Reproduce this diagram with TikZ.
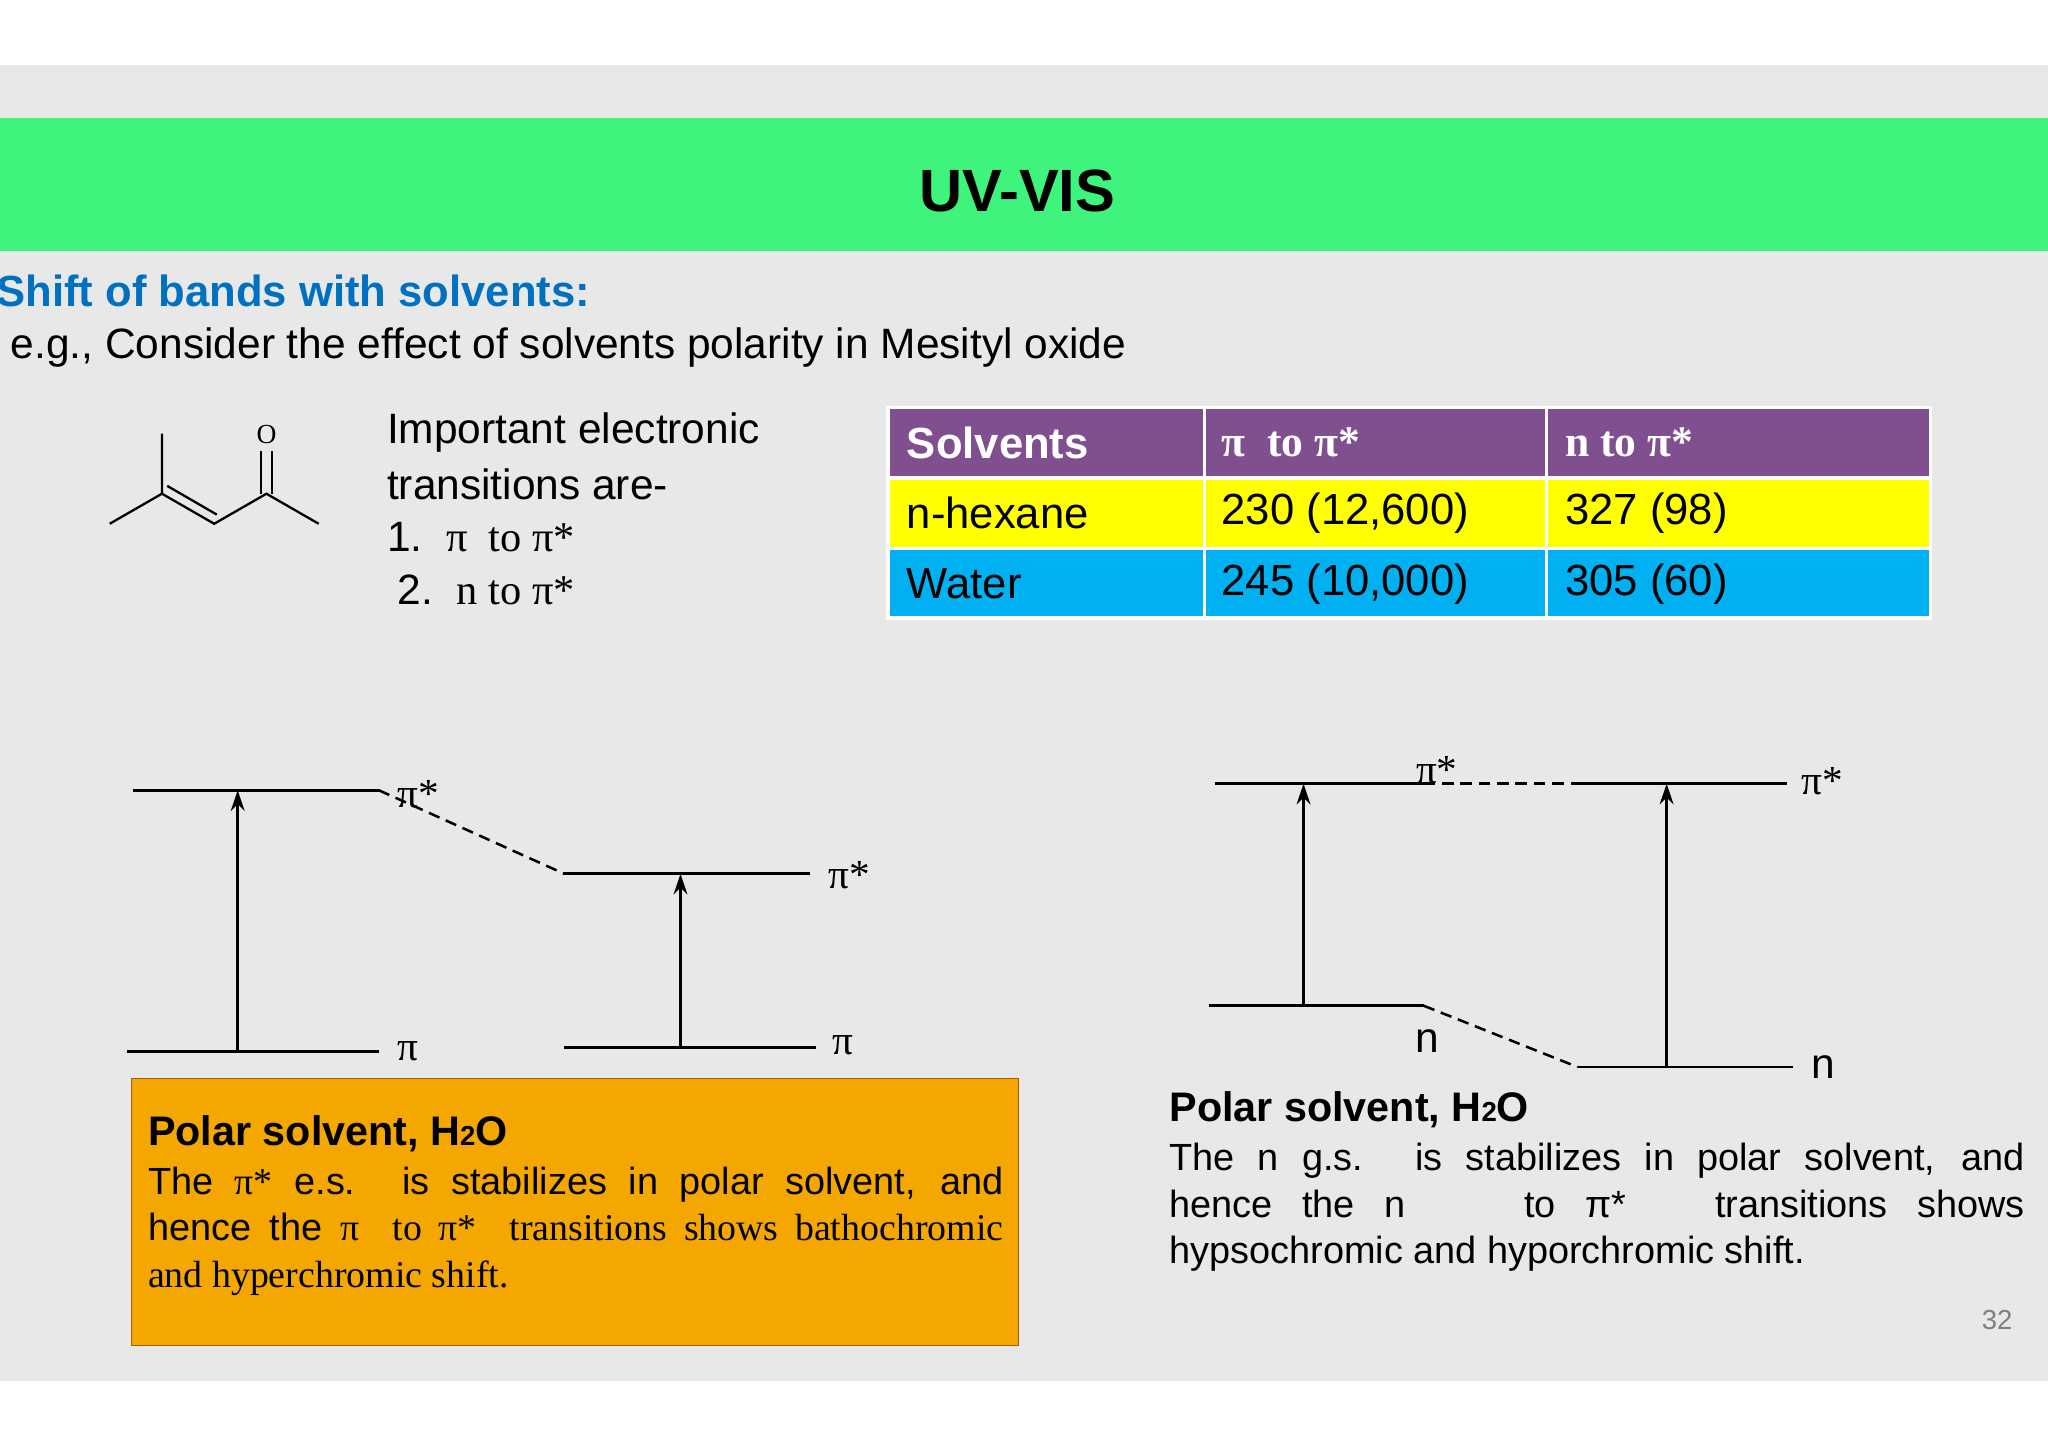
\documentclass[tikz,border=0pt]{standalone}
\usepackage{fontspec}
\setmainfont{Liberation Sans}
\newfontfamily\srf{Liberation Serif}
\usetikzlibrary{arrows.meta}
\definecolor{bg}{HTML}{E8E8E8}
\definecolor{grn}{HTML}{3EF47D}
\definecolor{blu}{HTML}{0070C0}
\definecolor{pur}{HTML}{7F4F8F}
\definecolor{yel}{HTML}{FFFF00}
\definecolor{cya}{HTML}{00B0F0}
\definecolor{org}{HTML}{F4A700}
\begin{document}
\begin{tikzpicture}[x=0.02cm,y=-0.02cm,
  body/.style={font=\fontsize{18.5}{20}\selectfont,inner sep=0},
  lvl/.style={line width=1.2pt},
  arr/.style={line width=1.2pt,-{Stealth[length=9pt,width=6pt]}},
  dsh/.style={line width=1.1pt,dash pattern=on 5pt off 3pt},
  cell/.style={draw=white,line width=1.5pt},
  ttxt/.style={anchor=west,font=\fontsize{19}{20}\selectfont,inner sep=0},
  lab/.style={font=\srf\fontsize{18}{20}\selectfont,inner sep=0},
  para/.style={anchor=north west,inner sep=0,text width=13.1cm,align=justify,font=\fontsize{16.5}{20.3}\selectfont}]
\useasboundingbox (0,0) rectangle (1568,1108);
\fill[white] (0,0) rectangle (1568,1108);
\fill[bg] (0,50) rectangle (1568,1057);
\fill[grn] (0,90) rectangle (1568,192);
\node[font=\bfseries\fontsize{26}{30}\selectfont] (title) at (779,146) {UV-VIS};
\node[anchor=west,text=blu,font=\bfseries\fontsize{19}{20}\selectfont,inner sep=0] (shift) at (-3,223) {Shift of bands with solvents:};
\node[anchor=west,body] (eg) at (8,266) {e.g., Consider the effect of solvents polarity in Mesityl oxide};
% molecule
\draw[line width=1pt] (84,401)--(124,378)--(124,332);
\draw[line width=1pt] (124,378)--(164,401)--(204,378)--(244,401);
\draw[line width=1pt] (128,372)--(166,394);
\draw[line width=1pt] (200,378)--(200,345) (208,378)--(208,345);
\node[font=\srf\fontsize{12}{14}\selectfont] (O) at (204,333) {O};
\node[anchor=west,body] (t1) at (296,331) {Important electronic};
\node[anchor=west,body] (t2) at (296,371) {transitions are-};
\node[anchor=west,body] (t3) at (296,411) {1.\ \ {\srf π \ to π*}};
\node[anchor=west,body] (t4) at (304,452) {2.\ \ {\srf n to π*}};
% table
\fill[pur] (680,312) rectangle (1478,366);
\fill[yel] (680,366) rectangle (1478,420);
\fill[cya] (680,420) rectangle (1478,473);
\draw[cell] (680,312) rectangle (1478,473) (680,366)--(1478,366) (680,420)--(1478,420) (922,312)--(922,473) (1184,312)--(1184,473);
\node[ttxt,text=white,font=\bfseries\fontsize{19}{20}\selectfont] (h1) at (694,339) {Solvents};
\node[ttxt,text=white,font=\srf\bfseries\fontsize{19}{20}\selectfont] (h2) at (935,339) {π \ to π*};
\node[ttxt,text=white,font=\srf\bfseries\fontsize{19}{20}\selectfont] (h3) at (1198,339) {n to π*};
\node[ttxt] (a1) at (694,393) {n-hexane};
\node[ttxt] (a2) at (935,393) {230 (12,600)};
\node[ttxt] (a3) at (1198,393) {327 (98)};
\node[ttxt] (b1) at (694,447) {Water};
\node[ttxt] (b2) at (935,447) {245 (10,000)};
\node[ttxt] (b3) at (1198,447) {305 (60)};
% left diagram
\coordinate (L1a) at (102,605); \coordinate (L1b) at (290,605);
\coordinate (L2a) at (432,669); \coordinate (L2b) at (620,669);
\coordinate (L3a) at (97,805); \coordinate (L3b) at (290,805);
\coordinate (L4a) at (432,802); \coordinate (L4b) at (625,802);
\draw[lvl] (L1a)--(L1b) (L2a)--(L2b) (L3a)--(L3b) (L4a)--(L4b);
\draw[dsh] (L1b)--(L2a);
\coordinate (A1s) at (182,805); \coordinate (A1e) at (182,605);
\coordinate (A2s) at (521,802); \coordinate (A2e) at (521,669);
\draw[arr] (A1s)--(A1e); \draw[arr] (A2s)--(A2e);
\node[lab] (lp1) at (320,608) {π*};
\node[lab] (lp2) at (650,670) {π*};
\node[lab] (lp3) at (312,805) {π};
\node[lab] (lp4) at (645,800) {π};
% orange box
\draw[fill=org,draw=orange!70!black] (101,826) rectangle (780,1030);
\node[anchor=west,inner sep=0,font=\bfseries\fontsize{18}{20}\selectfont] (pl) at (113,868) {Polar solvent, H{\fontsize{12}{12}\selectfont 2}O};
\node[para] (pltext) at (113,893) {The {\srf π*} e.s. is stabilizes in polar solvent, and\linebreak hence the {\srf π \ to π* \ transitions shows bathochromic\linebreak and hyperchromic shift.}};
% right diagram
\coordinate (R1a) at (930,600); \coordinate (R1b) at (1090,600);
\coordinate (R2a) at (1205,600); \coordinate (R2b) at (1368,600);
\coordinate (R3a) at (926,770); \coordinate (R3b) at (1090,770);
\coordinate (R4a) at (1208,817); \coordinate (R4b) at (1373,817);
\draw[lvl] (R1a)--(R1b) (R2a)--(R2b) (R3a)--(R3b) (R4a)--(R4b);
\draw[dsh] (R1b)--(R2a); \draw[dsh] (R3b)--(R4a);
\coordinate (B1s) at (998,770); \coordinate (B1e) at (998,600);
\coordinate (B2s) at (1276,817); \coordinate (B2e) at (1276,600);
\draw[arr] (B1s)--(B1e); \draw[arr] (B2s)--(B2e);
\node[lab] (rp1) at (1100,590) {π*};
\node[lab] (rp2) at (1395,598) {π*};
\node[body] (rn1) at (1093,797) {n};
\node[body] (rn2) at (1396,817) {n};
\node[anchor=west,inner sep=0,font=\bfseries\fontsize{18}{20}\selectfont] (pr) at (895,850) {Polar solvent, H{\fontsize{12}{12}\selectfont 2}O};
\node[para] (prtext) at (895,875) {The n g.s. is stabilizes in polar solvent, and\linebreak hence the n \ \ \ to π* \ \ transitions shows\linebreak hypsochromic and hyporchromic shift.};
\node[text=gray,font=\fontsize{12}{12}\selectfont] (pg) at (1529,1011) {32};
\end{tikzpicture}
\end{document}
